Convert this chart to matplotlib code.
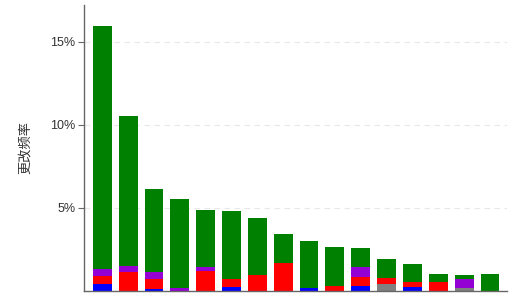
import matplotlib
matplotlib.use("Agg")
import matplotlib.pyplot as plt
import numpy as np

categories = [f"C{i+1}" for i in range(16)]
blue   = [0.42, 0, 0.10, 0, 0, 0.26, 0, 0, 0.20, 0, 0.30, 0, 0.26, 0, 0, 0]
gray   = [0, 0, 0, 0, 0, 0, 0, 0, 0, 0, 0, 0.40, 0, 0, 0.18, 0]
red    = [0.48, 1.16, 0.62, 0, 1.20, 0.44, 0.98, 1.70, 0, 0.30, 0.56, 0.36, 0.30, 0.52, 0, 0]
purple = [0.40, 0.34, 0.44, 0.16, 0.22, 0.05, 0, 0, 0, 0, 0.56, 0, 0, 0, 0.56, 0]
green  = [14.66, 9.04, 4.98, 5.38, 3.46, 4.07, 3.42, 1.73, 2.83, 2.37, 1.15, 1.17, 1.09, 0.48, 0.22, 1.00]
yticks = [5, 10, 15]
ylabels = ["5%", "10%", "15%"]

series = [(blue, "#0000ff"), (gray, "#808080"), (red, "#ff0000"), (purple, "#9400d3"), (green, "#008000")]

fig = plt.figure(figsize=(5.2, 2.98), dpi=100)
ax = fig.add_axes([0.1615, 0.0235, 0.8135, 0.96])
x = np.arange(len(categories))
bottom = np.zeros(len(categories))
for vals, col in series:
    v = np.array(vals, dtype=float)
    ax.bar(x, v, width=0.73, bottom=bottom, color=col, linewidth=0, zorder=2)
    bottom += v

ax.set_xlim(-0.71, 15.66)
ax.set_ylim(0, 17.2)
ax.set_yticks(yticks)
ax.set_yticklabels(ylabels, fontsize=9, color="#333333", family=["Liberation Sans", "DejaVu Sans"])
ax.set_xticks([])
ax.yaxis.grid(True, color="#e8e8e8", linestyle=(0, (5, 4)), linewidth=0.8, zorder=0)
for s in ["top", "right"]:
    ax.spines[s].set_visible(False)
for s in ["left", "bottom"]:
    ax.spines[s].set_color("#666666")
    ax.spines[s].set_linewidth(1)
ax.tick_params(axis="y", length=4, color="#666666", pad=2)
ax.set_ylabel("更改频率", fontsize=9.5, color="#333333", family=["Noto Sans CJK SC", "DejaVu Sans"], labelpad=13)

fig.savefig("out.png", dpi=100)
